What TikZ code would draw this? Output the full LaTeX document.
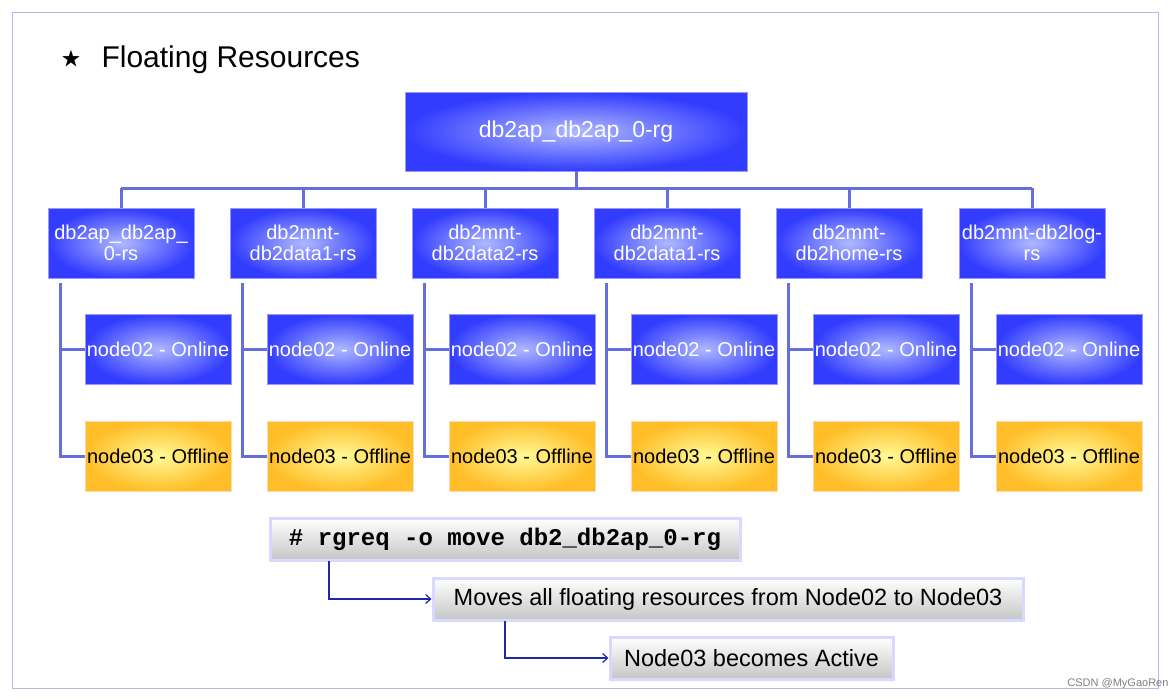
\documentclass[tikz,border=0pt]{standalone}
\usepackage{amssymb}
\usepackage{fontspec}
\setmainfont{Liberation Sans}
\setmonofont{Liberation Mono}
\usetikzlibrary{arrows.meta}
\definecolor{frame}{RGB}{180,185,240}
\definecolor{bin}{RGB}{175,185,255}
\definecolor{bout}{RGB}{50,60,255}
\definecolor{yin}{RGB}{255,250,150}
\definecolor{yout}{RGB}{255,190,40}
\definecolor{treec}{RGB}{100,110,220}
\definecolor{arrc}{RGB}{30,40,170}
\begin{document}
\begin{tikzpicture}[x=1pt,y=-1pt,
  bluebox/.style={draw=blue!40,inner sep=0,minimum width=146pt,minimum height=70pt,
     inner color=bin,outer color=bout,
     text=white,align=center,font=\fontsize{20}{21}\selectfont},
  ylbox/.style={draw=orange!30,inner sep=0,minimum width=146pt,minimum height=70pt,
     inner color=yin,outer color=yout,
     text=black,font=\fontsize{20}{21}\selectfont},
  graybox/.style={draw=blue!15,line width=3pt,inner sep=0,minimum height=42pt,
     top color=white,bottom color=gray!45,text=black},
  tree/.style={draw=treec,line width=3pt},
  arr/.style={draw=arrc,line width=1.2pt,-{Straight Barb[length=5pt,width=9pt]}}]
\useasboundingbox (0,0) rectangle (1174,699);
\draw[frame,line width=1pt] (12,12) rectangle (1158,688);
\node[anchor=west,font=\fontsize{20}{22}\selectfont] (star) at (58,60) {$\bigstar$};
\node[anchor=west,font=\fontsize{30}{32}\selectfont] (title) at (98,60) {Floating Resources};
\node[bluebox,minimum width=342pt,minimum height=79pt,font=\fontsize{23}{26}\selectfont] (top) at (576,131.5) {db2ap\_db2ap\_0-rg};
\coordinate (bus) at (576,188);
\draw[tree] (top.south) -- (bus);
\foreach \i/\x/\t in {1/121/{db2ap\_db2ap\_\\0-rs},2/303/{db2mnt-\\db2data1-rs},3/485/{db2mnt-\\db2data2-rs},4/667/{db2mnt-\\db2data1-rs},5/849/{db2mnt-\\db2home-rs},6/1032/{db2mnt-db2log-\\rs}}{
  \node[bluebox] (r\i) at (\x,243) {\t};
  \node[bluebox] (on\i) at (\x+37,349) {node02 - Online};
  \node[ylbox] (off\i) at (\x+37,456) {node03 - Offline};
  \coordinate (t\i) at (\x,188);
  \draw[tree] (t\i) -- (r\i.north);
  \draw[tree] (r\i.south west) ++(13,5) |- (off\i.west);
  \draw[tree] (on\i.west) -- ++(-24,0);
}
\draw[tree] (t1) -- (t6);
\node[graybox,minimum width=470pt,font=\ttfamily\bfseries\fontsize{24}{26}\selectfont] (cmd) at (505,539) {\# rgreq -o move db2\_db2ap\_0-rg};
\node[graybox,minimum width=590pt,font=\fontsize{23.5}{26}\selectfont] (mv) at (728,599) {Moves all floating resources from Node02 to Node03};
\node[graybox,minimum width=283pt,font=\fontsize{23.5}{26}\selectfont] (act) at (751.5,658) {Node03 becomes Active};
\coordinate (c1) at (329,561);
\coordinate (c2) at (505,621);
\draw[arr] (c1) |- (mv.west);
\draw[arr] (c2) |- (act.west);
\node[anchor=south east,text=gray,font=\fontsize{11}{12}\selectfont] (wm) at (1172,692) {CSDN @MyGaoRen};
\end{tikzpicture}
\end{document}
